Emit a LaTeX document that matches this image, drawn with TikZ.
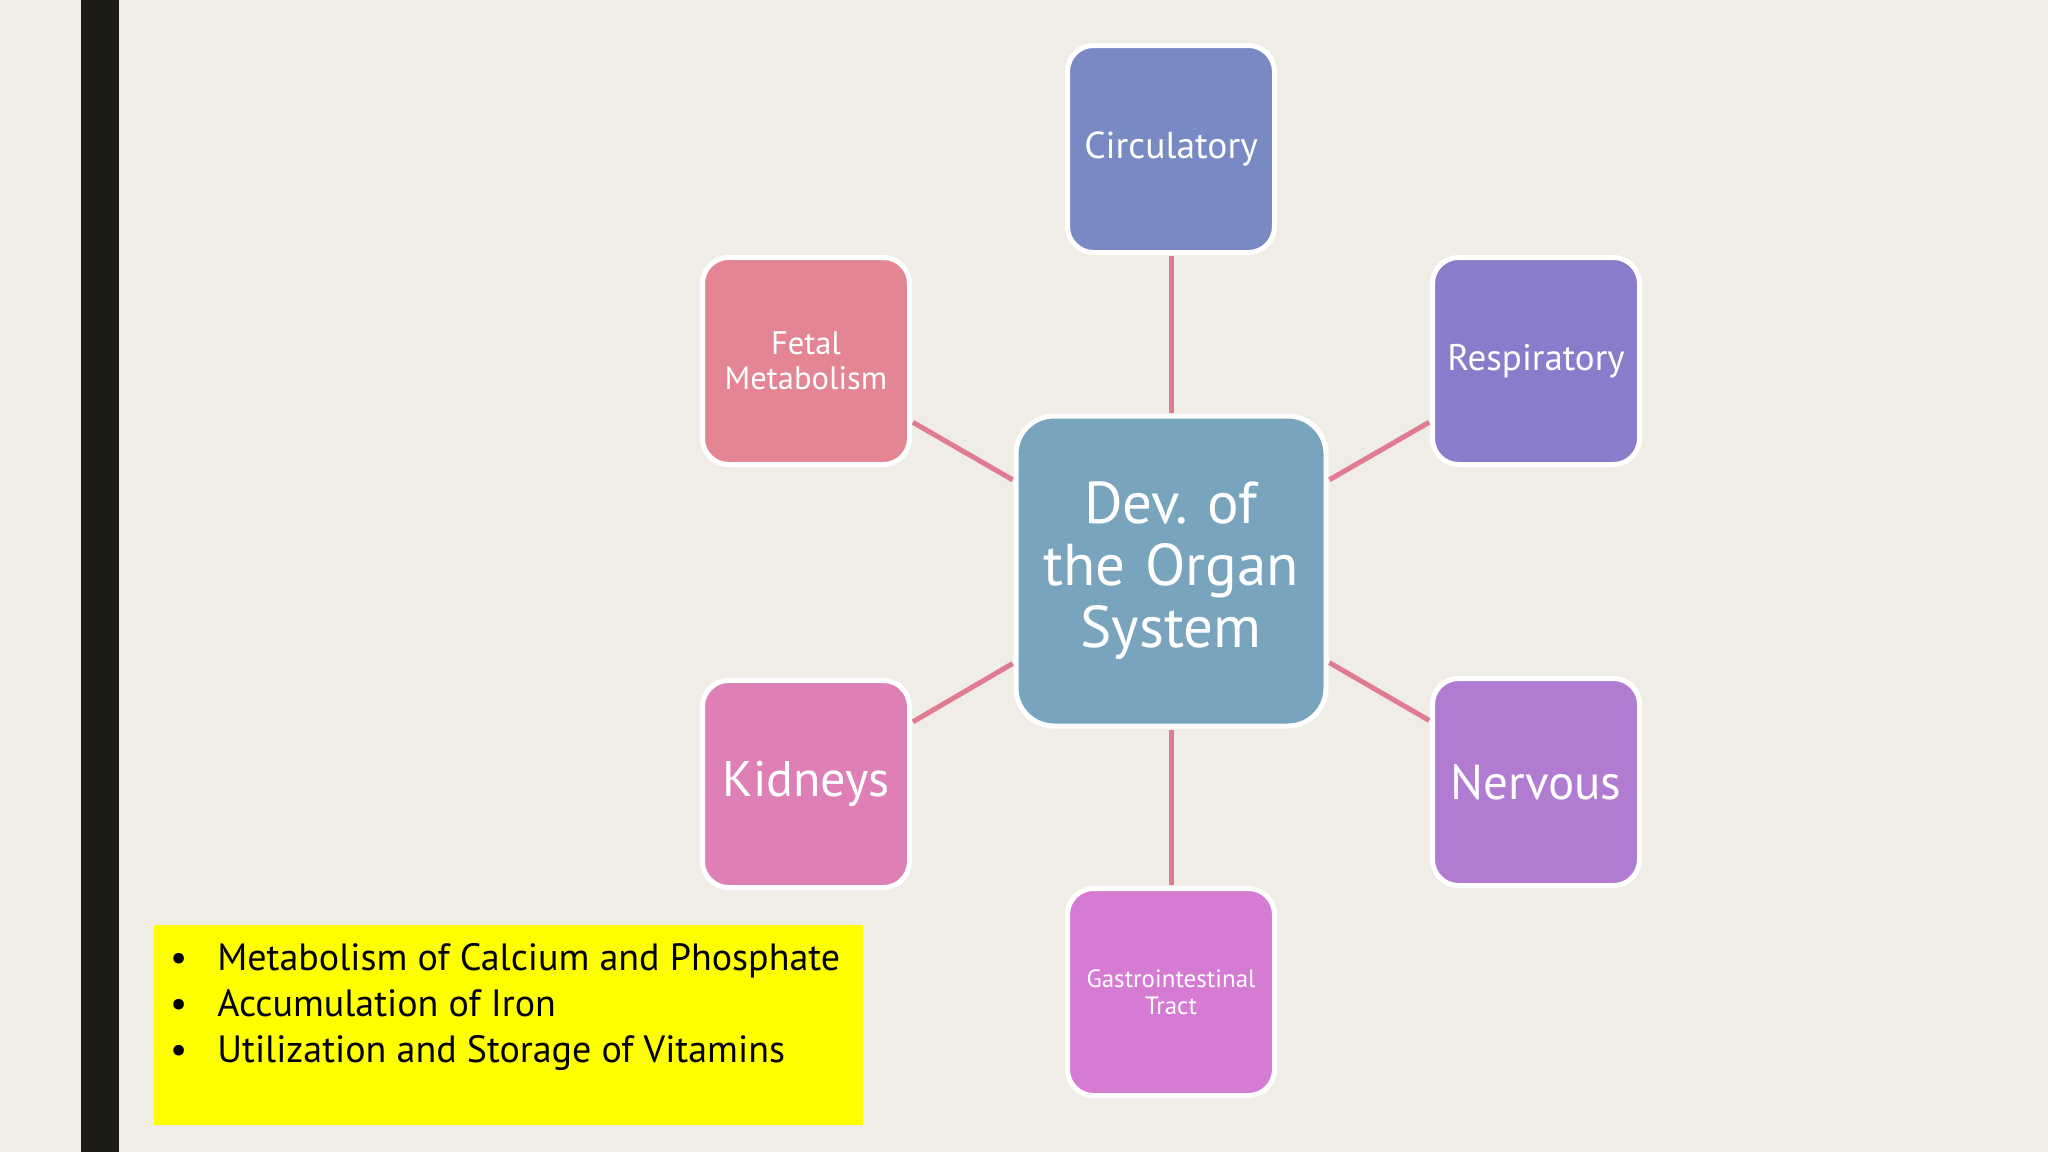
\documentclass[tikz,border=0pt]{standalone}
\usepackage{fontspec}
\setmainfont{PT Sans}
\begin{document}
\begin{tikzpicture}[x=1pt, y=-1pt]
% Organ system chart, drawn in px of the slide
\def\boxsz{207pt}
\providecommand{\chartLinkColor}{linkPink}
\definecolor{slideBg}{HTML}{EFEDE6}
\definecolor{barBlack}{HTML}{1C1C14}
\definecolor{linkPink}{HTML}{E07C90}
\definecolor{hubBlue}{HTML}{78A4BD}
\definecolor{circBlue}{HTML}{7889C4}
\definecolor{respViolet}{HTML}{8B7BCB}
\definecolor{nervPurple}{HTML}{B07BD0}
\definecolor{giOrchid}{HTML}{D67BD4}
\definecolor{kidPink}{HTML}{DE80B6}
\definecolor{fetalRose}{HTML}{E38592}
\definecolor{noteYellow}{HTML}{FFFF00}
\tikzset{
  organbox/.style={rounded corners=26pt, draw=white, line width=5pt,
    minimum width=\boxsz, minimum height=\boxsz, inner sep=0pt,
    text=white, align=center, text width=198pt},
  organlink/.style={draw=\chartLinkColor, line width=5pt, shorten >=1pt, shorten <=1pt},
}
% Background
\fill[slideBg] (0,0) rectangle (2048,1152);
\fill[barBlack] (81,0) rectangle (119,1152);
% Hub
\node[organbox, fill=hubBlue, minimum width=310pt, minimum height=310pt,
  rounded corners=38pt, text width=300pt, font=\fontsize{59}{62}\selectfont] (hub) at (1171,571) {Dev.\ of\\the Organ\\System};
% Organ boxes
\node[organbox, fill=circBlue, font=\fontsize{37.5}{40}\selectfont] (circ) at (1171,149) {Circulatory};
\node[organbox, fill=fetalRose, font=\fontsize{32.5}{35}\selectfont] (fetal) at (806,361) {Fetal\\Metabolism};
\node[organbox, fill=respViolet, font=\fontsize{37}{40}\selectfont] (resp) at (1536,361) {Respiratory};
\node[organbox, fill=kidPink, font=\fontsize{50}{52}\selectfont] (kid) at (806,784) {Kidneys};
\node[organbox, fill=nervPurple, font=\fontsize{49}{52}\selectfont] (nerv) at (1536,782) {Nervous};
\node[organbox, fill=giOrchid, font=\fontsize{25}{27}\selectfont] (gi) at (1171,992) {Gastrointestinal\\Tract};
% Links
\draw[organlink] (hub) -- (circ);
\draw[organlink] (hub) -- (fetal);
\draw[organlink] (hub) -- (resp);
\draw[organlink] (hub) -- (kid);
\draw[organlink] (hub) -- (nerv);
\draw[organlink] (hub) -- (gi);
% Notes
\node[fill=noteYellow, anchor=north west, minimum width=709pt, minimum height=200pt,
  inner sep=0pt] (notes) at (154,925) {};
\node[anchor=base west, inner sep=0pt, font=\fontsize{38}{46.4}\selectfont] (items) at (170,970)
  {\begin{tabular}[t]{@{}l@{\hspace{30pt}}l@{}}
    \textbullet & Metabolism of Calcium and Phosphate\\
    \textbullet & Accumulation of Iron\\
    \textbullet & Utilization and Storage of Vitamins
  \end{tabular}};
\end{tikzpicture}
\end{document}
